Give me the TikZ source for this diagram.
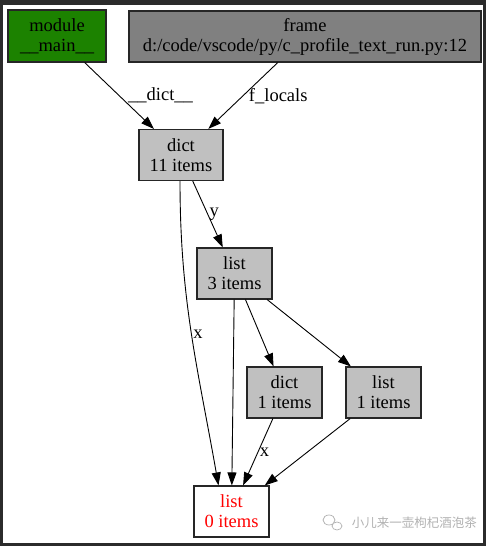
\documentclass[tikz,border=0pt]{standalone}
\usepackage{fontspec}
\setmainfont{Liberation Serif}
\newfontfamily\cjk{Noto Sans CJK SC}
\usetikzlibrary{arrows.meta,positioning}
\definecolor{modgreen}{RGB}{28,130,0}
\definecolor{framegray}{RGB}{128,128,128}
\definecolor{objgray}{RGB}{192,192,192}
\definecolor{bgdark}{RGB}{43,43,43}
\tikzset
{
    objnode/.style = {draw=black!85, line width=1.1pt, fill=objgray, align=center, minimum width=75pt, minimum height=51pt, inner sep=2pt, font=\fontsize{18.5}{20}\selectfont},
    elabel/.style  = {inner sep=1.5pt, font=\fontsize{18.5}{20}\selectfont},
    wmark/.style   = {text=black!30, font=\cjk\fontsize{12.5}{14}\selectfont}
}
\begin{document}
\begin{tikzpicture}[x=1pt, y=-1pt, ->, >={Triangle[length=13pt, width=9pt]}, line width=0.9pt]
    % frame of the screenshot
    \fill[bgdark] (0,0) rectangle (486,546);
    \fill[white] (3,5) rectangle (483,543);
    % objects
    \node [objnode, fill=modgreen, minimum width=98pt, minimum height=52pt] (module) at (57,36) {module\\\_\_main\_\_};
    \node [objnode, fill=framegray, minimum width=352pt] (frame) at (305,36.5) {frame\\d:/code/vscode/py/c\_profile\_text\_run.py:12};
    \node [objnode, minimum width=84pt] (dict11) at (181,155) {dict\\11 items};
    \node [objnode] (list3) at (234.5,273.5) {list\\3 items};
    \node [objnode] (dict1) at (284.5,392.5) {dict\\1 items};
    \node [objnode] (list1) at (383.5,392.5) {list\\1 items};
    \node [objnode, fill=white, text=red] (list0) at (231.5,511.5) {list\\0 items};
    % references
    \draw (module) -- node[elabel, right, xshift=7pt] {\_\_dict\_\_} (dict11);
    \draw (frame) -- node[elabel, right, xshift=4pt] {f\_locals} (dict11);
    \draw (dict11) -- node[elabel, right] {y} (list3);
    \draw ([xshift=-1pt]dict11.south) to[out=-90, in=100] node[elabel, right] {x} ([xshift=-13pt]list0.north);
    \draw (list3) -- (list0);
    \draw (list3) -- (dict1);
    \draw (list3) -- (list1);
    \draw (dict1) -- node[elabel, right] {x} (list0);
    \draw (list1) -- (list0);
    % watermark
    \draw[-, black!30, line width=0.7pt] (329,520) ellipse (6 and 5) (337,526) ellipse (5 and 4);
    \node [wmark, anchor=west] (wm) at (348,523) {小儿来一壶枸杞酒泡茶};
\end{tikzpicture}
\end{document}
